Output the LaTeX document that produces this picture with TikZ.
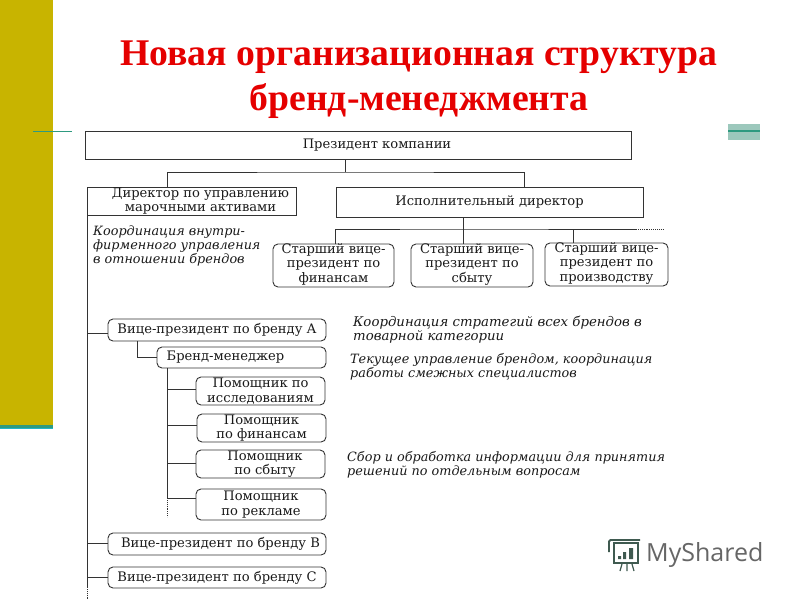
\documentclass[tikz,border=0pt]{standalone}
\usepackage{fontspec}
\usepackage{xcolor}
\usepackage{tikz}
\setmainfont{DejaVu Serif}
\newfontfamily\titlefont{Liberation Serif}
\newfontfamily\logofont{Open Sans}
\definecolor{sidebar}{HTML}{C8B400}
\definecolor{tealline}{HTML}{2E9A80}
\definecolor{tealpale}{HTML}{9CC8BC}
\definecolor{tealedge}{HTML}{1FB5C8}
\definecolor{scanink}{HTML}{333333}
\definecolor{logoink}{HTML}{3F5A50}
\tikzset{
    squarebox/.style = {draw = scanink, line width = 0.9pt, inner sep = 0pt, align = center,
        text = black!90, font = \fontsize{13.1}{14.5}\selectfont},
    roundbox/.style = {squarebox, rounded corners = 5pt},
    seniorbox/.style = {roundbox, text height = 38pt, text depth = 5pt},
    remark/.style = {anchor = west, inner sep = 0pt, align = left, text = black!90,
        font = \itshape\fontsize{12.8}{14.2}\selectfont},
    link/.style = {draw = scanink, line width = 0.9pt}
}

\begin{document}
\begin{tikzpicture}[x = 1pt, y = -1pt]
        \useasboundingbox (0, 0) rectangle (800, 600);

        % slide decoration
        \fill [sidebar] (0, 0) rectangle (53, 425);
        \fill [tealline] (0, 425) rectangle (53, 428);
        \fill [tealedge] (0, 428) rectangle (53, 429);
        \draw [tealline, line width = 1pt] (33, 131) -- (72, 131);
        \fill [tealpale] (728, 124) rectangle (760, 140);
        \draw [tealline, line width = 1.2pt] (728, 131) -- (760, 131);

        \node [font = \titlefont\bfseries\fontsize{37.7}{45}\selectfont, text = red!90!black, align = center]
            (title) at (419, 80) {Новая организационная структура\\бренд-менеджмента};

        % top level
        \node [squarebox, minimum width = 546pt, minimum height = 28pt] (president) at (358, 145) {\hspace*{38pt}Президент компании};
        \node [squarebox, minimum width = 209pt, minimum height = 28pt] (director) at (191.5, 201) {\hspace*{18pt}Директор по управлению\\\hspace*{18pt}марочными активами};
        \node [squarebox, minimum width = 307pt, minimum height = 30pt] (executive) at (489.5, 202) {Исполнительный директор};

        \node [seniorbox, minimum width = 121pt, minimum height = 43pt] (vpfin) at (333.5, 265.5) {Старший вице-\\президент по\\финансам};
        \node [seniorbox, minimum width = 122pt, minimum height = 43pt] (vpsales) at (472, 265.5) {Старший вице-\\президент по\\сбыту};
        \node [seniorbox, minimum width = 123pt, minimum height = 43pt] (vpprod) at (606.5, 264.5) {Старший вице-\\президент по\\производству};

        % brand lines
        \node [roundbox, minimum width = 218pt, minimum height = 22pt] (branda) at (217, 330) {Вице-президент по бренду А};
        \node [roundbox, minimum width = 169pt, minimum height = 21pt] (manager) at (241.5, 357.5) {Бренд-менеджер\hspace*{32pt}};
        \node [roundbox, minimum width = 129pt, minimum height = 28pt] (helpres) at (260.5, 391) {Помощник по\\исследованиям};
        \node [roundbox, minimum width = 129pt, minimum height = 28pt] (helpfin) at (261.5, 428) {Помощник\\по финансам};
        \node [roundbox, minimum width = 129pt, minimum height = 28pt] (helpsales) at (260.5, 464) {\hspace*{9pt}Помощник\\\hspace*{9pt}по сбыту};
        \node [roundbox, minimum width = 130pt, minimum height = 31pt] (helpads) at (261, 504.5) {Помощник\\по рекламе};
        \node [roundbox, minimum width = 218pt, minimum height = 22pt] (brandb) at (217, 544) {\hspace*{7pt}Вице-президент по бренду В};
        \node [roundbox, minimum width = 218pt, minimum height = 21pt] (brandc) at (217, 577.5) {Вице-президент по бренду С};

        % remarks
        \node [remark] (notecoord) at (93, 246) {Координация внутри-\\фирменного управления\\в отношении брендов};
        \node [remark, font = \itshape\fontsize{13.3}{14.2}\selectfont] (notecat) at (353, 330) {Координация стратегий всех брендов в\\товарной категории};
        \node [remark] (notecur) at (350, 367) {Текущее управление брендом, координация\\работы смежных специалистов};
        \node [remark] (noteinfo) at (347, 465) {Сбор и обработка информации для принятия\\решений по отдельным вопросам};

        % connectors from the president
        \coordinate (topbus) at (345, 172);
        \draw [link] (president.south -| topbus) -- (topbus);
        \draw [link] (director.north -| 167, 0) |- (topbus) -| (executive.north -| 524, 0);

        % connectors from the executive director
        \coordinate (execbus) at (463, 229);
        \coordinate (execend) at (636, 229);
        \coordinate (execfree) at (663, 229);
        \draw [link] (executive.south -| execbus) -- (vpsales.north -| execbus);
        \draw [link] (vpfin.north -| 335, 0) |- (execbus) -- (execend);
        \draw [link, densely dotted] (execend) -- (execfree);
        \draw [link] (vpprod.north -| 573, 0) -- (573, 229);

        % left spine
        \coordinate (spine) at (87, 587);
        \coordinate (spinefree) at (87, 600);
        \draw [link] (director.south -| spine) -- (spine);
        \draw [link, densely dotted] (spine) -- (spinefree);
        \draw [link] (87, 333) -- (branda.west |- 87, 333);
        \draw [link] (87, 543) -- (brandb.west |- 87, 543);
        \draw [link] (87, 577) -- (brandc.west |- 87, 577);

        % brand manager and helpers
        \draw [link] (branda.south -| 137, 0) |- (manager.west);
        \coordinate (helpers) at (167, 498);
        \coordinate (helpersfree) at (167, 517);
        \draw [link] (manager.south -| helpers) -- (helpers);
        \draw [link, densely dotted] (helpers) -- (helpersfree);
        \draw [link] (167, 389) -- (helpres.west |- 167, 389);
        \draw [link] (167, 425) -- (helpfin.west |- 167, 425);
        \draw [link] (167, 463) -- (helpsales.west |- 167, 463);
        \draw [link] (helpers) -- (helpads.west |- helpers);

        % logo
        \draw [logoink, line width = 1.4pt] (614, 543) rectangle (638, 563);
        \draw [logoink, line width = 1.8pt, rounded corners = 1.5pt] (609, 552) -- (609, 540) -- (640, 540);
        \fill [logoink] (618, 556) rectangle (621, 559) (623, 552) rectangle (626, 559) (629, 548) rectangle (633, 559);
        \draw [logoink, line width = 1.2pt] (622, 564) -- (620, 571) (627, 564) -- (627, 571) (632, 564) -- (634, 571);
        \node [font = \logofont\fontsize{25}{25}\selectfont, text = black!60, anchor = west, inner sep = 0pt]
            (logo) at (646, 555) {MyShared};
\end{tikzpicture}
\end{document}
